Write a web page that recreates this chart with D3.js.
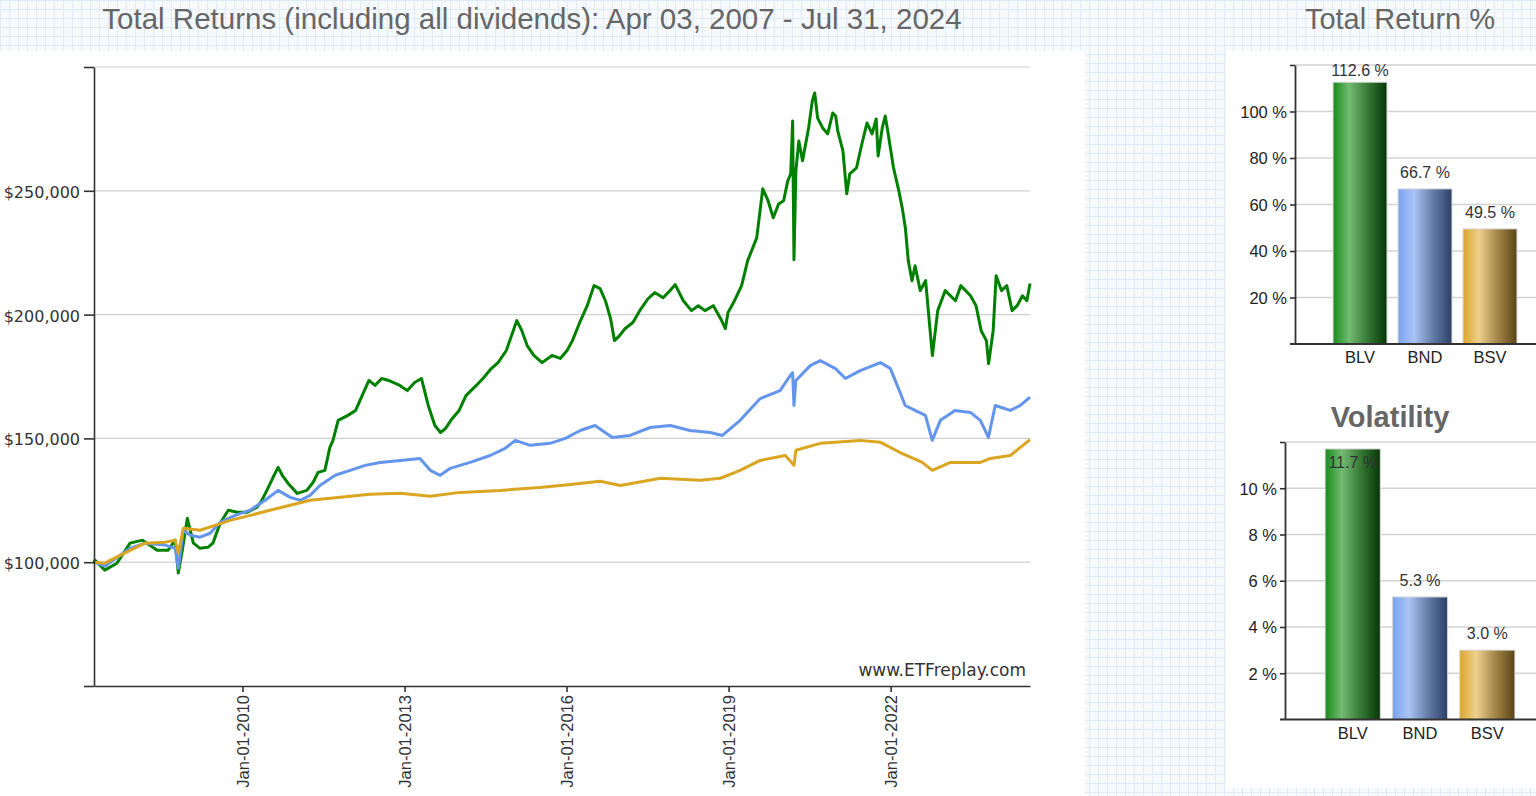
<!DOCTYPE html>
<html><head><meta charset="utf-8">
<script src="https://cdn.jsdelivr.net/npm/d3@7"></script>
<style>html,body{margin:0;padding:0;overflow:hidden;background:#fff}</style>
</head><body><svg id="c" width="1536" height="796"></svg>
<script>
// ---------- DATA ----------
const mainTitle = "Total Returns (including all dividends): Apr 03, 2007 - Jul 31, 2024";
const startDate = "2007-04-03", endDate = "2024-07-31";
const yTickValues = [50000,100000,150000,200000,250000,300000];
const yTickLabels = ["","$100,000","$150,000","$200,000","$250,000",""];
const xTickDates = ["2010-01-01","2013-01-01","2016-01-01","2019-01-01","2022-01-01"];
const watermark = "www.ETFreplay.com";

// BLV (green) value of $100,000 over time (in $1000s)
const blvData = [
["2007-04-03",100.0],["2007-04-10",100.8],["2007-06-15",96.8],["2007-09-05",99.6],["2007-12-03",107.7],
["2008-02-25",108.9],["2008-06-03",104.8],["2008-08-15",104.8],["2008-10-03",108.9],["2008-10-24",95.6],
["2008-11-20",104.8],["2008-12-24",117.7],["2009-02-03",107.7],["2009-03-20",105.6],["2009-05-12",106.0],
["2009-06-15",107.7],["2009-08-03",115.7],["2009-09-27",121.0],["2009-11-27",120.2],["2010-02-03",120.2],
["2010-04-10",122.2],["2010-05-12",125.0],["2010-06-15",129.0],["2010-07-27",134.3],["2010-08-30",138.3],
["2010-09-27",135.1],["2010-11-06",131.8],["2011-01-06",127.8],["2011-03-12",129.0],["2011-04-24",132.3],
["2011-05-27",136.3],["2011-07-12",137.1],["2011-08-15",146.4],["2011-09-05",149.2],["2011-10-10",157.3],
["2011-12-15",159.3],["2012-02-05",161.3],["2012-03-20",167.3],["2012-05-05",173.4],["2012-06-15",171.4],
["2012-07-31",174.2],["2012-09-15",173.4],["2012-11-30",171.4],["2013-01-20",169.3],["2013-03-10",172.6],
["2013-04-25",174.2],["2013-06-10",163.3],["2013-07-25",155.2],["2013-09-01",152.4],["2013-10-05",154.0],
["2013-11-10",157.3],["2014-01-05",161.3],["2014-02-20",167.3],["2014-05-01",171.4],["2014-06-15",174.2],
["2014-08-10",178.2],["2014-09-25",180.6],["2014-11-20",185.5],["2014-12-25",191.5],["2015-01-30",197.6],
["2015-03-05",193.5],["2015-04-10",187.5],["2015-05-25",183.5],["2015-07-20",180.6],["2015-09-25",183.5],
["2015-11-20",182.3],["2016-01-05",185.5],["2016-02-10",189.5],["2016-04-05",197.6],["2016-05-20",203.6],
["2016-07-05",211.7],["2016-08-15",210.5],["2016-09-20",205.6],["2016-10-25",198.4],["2016-11-20",189.5],
["2016-12-25",191.5],["2017-01-30",194.3],["2017-03-25",196.8],["2017-05-10",201.6],["2017-07-05",206.4],
["2017-08-20",208.9],["2017-10-15",206.8],["2017-12-01",209.7],["2018-01-05",212.1],["2018-03-01",205.6],
["2018-04-25",201.6],["2018-06-10",203.6],["2018-07-25",201.6],["2018-09-20",203.6],["2018-11-15",197.6],
["2018-12-10",194.3],["2018-12-28",200.8],["2019-02-10",205.6],["2019-03-30",211.7],["2019-05-10",221.8],
["2019-07-10",231.0],["2019-08-20",250.8],["2019-09-25",246.0],["2019-10-30",239.1],["2019-12-05",244.7],
["2020-01-08",246.0],["2020-02-05",254.0],["2020-02-25",256.8],["2020-03-09",278.2],["2020-03-18",222.2],
["2020-03-31",258.1],["2020-04-20",270.1],["2020-05-15",262.1],["2020-06-05",268.9],["2020-06-25",275.4],
["2020-07-20",286.3],["2020-08-05",289.5],["2020-08-25",279.4],["2020-09-28",275.4],["2020-11-01",273.0],
["2020-12-05",281.4],["2020-12-25",280.2],["2021-01-08",274.2],["2021-02-12",266.1],["2021-03-10",248.8],
["2021-03-30",256.8],["2021-05-15",259.3],["2021-06-20",268.9],["2021-07-25",277.4],["2021-08-28",273.0],
["2021-09-25",279.0],["2021-10-08",264.1],["2021-11-05",275.4],["2021-11-25",280.2],["2021-12-15",273.0],
["2022-01-20",259.3],["2022-02-25",250.0],["2022-03-20",243.1],["2022-04-10",235.1],["2022-04-30",221.8],
["2022-05-25",213.7],["2022-06-15",219.7],["2022-07-20",209.7],["2022-08-25",213.7],["2022-10-10",183.5],
["2022-11-15",201.6],["2023-01-05",209.7],["2023-03-15",205.6],["2023-04-20",211.7],["2023-06-25",207.6],
["2023-08-01",203.6],["2023-09-05",193.5],["2023-10-10",189.5],["2023-10-25",180.2],["2023-11-25",193.5],
["2023-12-15",215.7],["2024-01-20",209.7],["2024-02-25",211.7],["2024-04-01",201.6],["2024-05-05",203.6],
["2024-06-10",207.6],["2024-07-10",205.6],["2024-07-31",212.6]
];
// BND (blue)
const bndData = [
["2007-04-03",100.0],["2007-06-15",98.4],["2007-12-03",105.6],["2008-03-12",107.7],["2008-07-27",106.9],
["2008-10-03",105.6],["2008-10-24",97.6],["2008-11-27",112.9],["2009-01-12",110.9],["2009-03-20",110.1],
["2009-05-27",111.7],["2009-08-03",116.1],["2009-11-12",118.9],["2010-02-22",121.0],["2010-06-03",125.0],
["2010-08-30",129.0],["2010-11-20",126.2],["2011-01-27",125.0],["2011-04-03",127.0],["2011-06-09",131.0],
["2011-09-20",135.1],["2011-12-30",137.1],["2012-04-09",139.1],["2012-07-20",140.3],["2012-12-03",141.1],
["2013-04-15",141.9],["2013-06-24",137.1],["2013-08-30",135.1],["2013-11-06",137.9],["2014-03-20",140.3],
["2014-08-03",143.1],["2014-11-12",146.0],["2015-01-20",149.2],["2015-04-30",147.2],["2015-09-12",148.0],
["2015-12-24",150.0],["2016-04-03",153.2],["2016-07-12",155.2],["2016-11-06",150.4],["2017-03-06",151.2],
["2017-07-20",154.4],["2017-12-03",155.2],["2018-04-15",153.2],["2018-08-30",152.4],["2018-11-20",151.2],
["2019-03-20",157.3],["2019-08-03",166.1],["2019-12-15",169.3],["2020-02-22",175.4],["2020-03-09",176.5],
["2020-03-18",163.3],["2020-03-31",173.4],["2020-07-06",179.4],["2020-09-12",181.4],["2020-12-24",178.2],
["2021-03-01",174.2],["2021-06-09",177.4],["2021-10-24",180.6],["2021-12-30",178.2],["2022-03-06",168.5],
["2022-04-09",163.3],["2022-06-15",161.3],["2022-08-24",159.3],["2022-10-09",149.2],["2022-12-03",157.3],
["2023-03-12",161.3],["2023-06-24",160.5],["2023-08-30",157.3],["2023-10-24",150.4],["2023-12-09",163.3],
["2024-03-20",161.3],["2024-05-27",163.3],["2024-07-31",166.7]
];
// BSV (gold)
const bsvData = [
["2007-04-03",100.0],["2007-06-15",99.6],["2007-12-03",104.8],["2008-03-12",107.7],["2008-07-27",108.1],
["2008-10-03",108.9],["2008-10-24",103.6],["2008-11-27",113.7],["2009-03-20",112.9],["2009-06-30",114.9],
["2009-10-09",116.9],["2010-02-22",118.9],["2010-07-06",121.0],["2010-11-20",123.0],["2011-04-03",125.0],
["2011-10-24",126.2],["2012-05-12",127.4],["2012-12-03",127.8],["2013-06-24",126.6],["2014-01-12",128.2],
["2014-10-09",129.0],["2015-07-06",130.2],["2016-01-27",131.4],["2016-08-15",132.7],["2016-12-30",131.0],
["2017-09-27",133.9],["2018-06-24",133.1],["2018-11-06",133.9],["2019-03-20",137.1],["2019-08-03",141.1],
["2020-01-20",143.1],["2020-03-18",139.1],["2020-03-31",145.2],["2020-09-12",148.0],["2021-06-09",149.2],
["2021-10-24",148.4],["2022-03-06",144.3],["2022-08-03",140.3],["2022-10-09",137.1],["2023-02-09",140.3],
["2023-08-30",140.3],["2023-11-06",141.9],["2024-03-20",143.1],["2024-07-31",149.5]
];
const seriesNames = ["BLV","BND","BSV"];
const seriesColors = ["#008000","#6495ed","#daa520"];

const barCategories = ["BLV","BND","BSV"];
const totalReturnTitle = "Total Return %";
const totalReturnValues = [112.6, 66.7, 49.5];
const totalReturnTicks = [20,40,60,80,100,120];
const volatilityTitle = "Volatility";
const volatilityValues = [11.7, 5.3, 3.0];
const volatilityTicks = [2,4,6,8,10,12];

// ---------- DRAW ----------
const W = 1536, H = 796;
const svg = d3.select("#c");
const defs = svg.append("defs");
const pat = defs.append("pattern").attr("id","grid").attr("patternUnits","userSpaceOnUse")
  .attr("width",9).attr("height",9);
pat.append("rect").attr("width",9).attr("height",9).attr("fill","#f6fafd");
pat.append("path").attr("d","M0 0.5H9M0.5 0V9").attr("stroke","#e0ebf6").attr("stroke-width",1).attr("fill","none");
svg.append("rect").attr("width",W).attr("height",H).attr("fill","url(#grid)");
svg.append("rect").attr("x",0).attr("y",51).attr("width",1085).attr("height",H-51).attr("fill","#fff");
svg.append("rect").attr("x",1226).attr("y",51).attr("width",W-1226).attr("height",788-51).attr("fill","#fff");

// gradients for bars
const gradStops = {
  "#008000": ["#168c16","#74bb74","#3a7d3a","#053605"],
  "#6495ed": ["#7aa2f0","#aac4f5","#6a80ad","#2b3f66"],
  "#daa520": ["#dba52a","#eed08e","#a88a4c","#5a4414"]
};
seriesColors.forEach((c,i)=>{
  const g = defs.append("linearGradient").attr("id","g"+i).attr("x1","0").attr("x2","1").attr("y1","0").attr("y2","0");
  const st = gradStops[c];
  [0,0.3,0.62,1].forEach((o,k)=> g.append("stop").attr("offset",o).attr("stop-color",st[k]));
});

// titles
svg.append("text").attr("x",532).attr("y",29).attr("text-anchor","middle")
  .attr("font-family","Liberation Sans, Arial, sans-serif").attr("font-size",29.5).attr("fill","#666").text(mainTitle);
svg.append("text").attr("x",1400).attr("y",29).attr("text-anchor","middle")
  .attr("font-family","Liberation Sans, Arial, sans-serif").attr("font-size",29).attr("fill","#666").text(totalReturnTitle);

// main chart
const parse = d3.timeParse("%Y-%m-%d");
const x = d3.scaleTime().domain([parse(startDate), parse(endDate)]).range([94,1030]);
const y = d3.scaleLinear().domain([50000,300000]).range([686,67]);

const gMain = svg.append("g");
gMain.selectAll("line.grid").data(yTickValues.slice(1)).join("line")
  .attr("x1",94).attr("x2",1030).attr("y1",d=>y(d)).attr("y2",d=>y(d))
  .attr("stroke","#cfcfcf").attr("stroke-width",1.2);

const line = d3.line().x(d=>x(parse(d[0]))).y(d=>y(d[1]*1000)).curve(d3.curveLinear);
[blvData,bndData,bsvData].forEach((data,i)=>{
  gMain.append("path").datum(data).attr("d",line).attr("fill","none")
    .attr("stroke",seriesColors[i]).attr("stroke-width",3).attr("stroke-linejoin","round");
});

const yAxis = d3.axisLeft(y).tickValues(yTickValues).tickSize(10).tickSizeOuter(0)
  .tickFormat((d,i)=>yTickLabels[i]);
const gy = gMain.append("g").attr("transform","translate(94,0)").call(yAxis);
gy.select(".domain").attr("stroke","#333").attr("stroke-width",1.6);
gy.selectAll(".tick line").attr("stroke","#333").attr("stroke-width",1.6);
gy.selectAll(".tick text").attr("x",-14).attr("dy","0.4em").attr("fill","#333")
  .attr("font-family","DejaVu Sans, Verdana, sans-serif").attr("font-size",16);

const xAxis = d3.axisBottom(x).tickValues(xTickDates.map(parse)).tickSize(6).tickSizeOuter(0)
  .tickFormat(d3.timeFormat("%b-%d-%Y"));
const gx = gMain.append("g").attr("transform","translate(0,686)").call(xAxis);
gx.select(".domain").attr("stroke","#333").attr("stroke-width",1.6);
gx.selectAll(".tick line").attr("stroke","#333").attr("stroke-width",1.6);
gx.selectAll(".tick text").attr("transform","rotate(-90)").attr("text-anchor","end")
  .attr("x",-9).attr("y",0).attr("dy","0.36em").attr("fill","#333")
  .attr("font-family","Liberation Sans, Arial, sans-serif").attr("font-size",16.5);

gMain.append("text").attr("x",1026).attr("y",676).attr("text-anchor","end")
  .attr("font-family","DejaVu Sans, Verdana, sans-serif").attr("font-size",17).attr("fill","#333").text(watermark);

// bar charts
function barChart(cfg){
  const g = svg.append("g");
  const yb = d3.scaleLinear().domain([0,cfg.max]).range([cfg.bottom,cfg.top]);
  const xb = d3.scaleBand().domain(barCategories).range(cfg.xr).padding(cfg.pad);
  g.selectAll("line.grid").data(cfg.ticks).join("line")
    .attr("x1",cfg.axisX).attr("x2",W).attr("y1",d=>yb(d)).attr("y2",d=>yb(d))
    .attr("stroke","#d3d3d3").attr("stroke-width",1.5);
  g.selectAll("rect.bar").data(cfg.values).join("rect")
    .attr("x",(d,i)=>xb(barCategories[i])).attr("width",xb.bandwidth())
    .attr("y",d=>yb(d)).attr("height",d=>cfg.bottom-yb(d))
    .attr("fill",(d,i)=>"url(#g"+i+")").attr("stroke","#d8d8d8").attr("stroke-width",1);
  g.selectAll("text.val").data(cfg.values).join("text")
    .attr("x",(d,i)=>xb(barCategories[i])+xb.bandwidth()/2)
    .attr("y",d=>{
      const t = yb(d)-11;
      if (t-12 < cfg.top-2) return cfg.inside ? yb(d)+19 : cfg.top+11;
      return t;
    })
    .attr("text-anchor","middle").attr("font-family","Liberation Sans, Arial, sans-serif")
    .attr("font-size",16).attr("fill","#333").text(d=>d.toFixed(1)+" %");
  const ax = d3.axisLeft(yb).tickValues(cfg.ticks).tickSize(5).tickSizeOuter(0)
    .tickFormat(d=> d===cfg.max ? "" : d+" %");
  const ga = g.append("g").attr("transform",`translate(${cfg.axisX},0)`).call(ax);
  ga.select(".domain").attr("stroke","#333").attr("stroke-width",1.8);
  ga.selectAll(".tick line").attr("stroke","#333").attr("stroke-width",1.6);
  ga.selectAll(".tick text").attr("x",-8).attr("dy","0.36em").attr("fill","#222")
    .attr("font-family","Liberation Sans, Arial, sans-serif").attr("font-size",16.5);
  g.append("line").attr("x1",cfg.axisX-5).attr("x2",W).attr("y1",cfg.bottom).attr("y2",cfg.bottom)
    .attr("stroke","#333").attr("stroke-width",1.8);
  g.selectAll("text.cat").data(barCategories).join("text")
    .attr("x",d=>xb(d)+xb.bandwidth()/2).attr("y",cfg.bottom+19).attr("text-anchor","middle")
    .attr("font-family","Liberation Sans, Arial, sans-serif").attr("font-size",16.5).attr("fill","#222").text(d=>d);
}
barChart({values: totalReturnValues, ticks: totalReturnTicks, max: 120, top: 65, bottom: 344,
  axisX: 1295, xr: [1322,1528], pad: 0.17, inside: false});
svg.append("text").attr("x",1390).attr("y",427).attr("text-anchor","middle")
  .attr("font-family","Liberation Sans, Arial, sans-serif").attr("font-weight","bold")
  .attr("font-size",29).attr("fill","#666").text(volatilityTitle);
barChart({values: volatilityValues, ticks: volatilityTicks, max: 12, top: 442, bottom: 719.5,
  axisX: 1285, xr: [1313,1527], pad: 0.18, inside: true});
</script></body></html>
